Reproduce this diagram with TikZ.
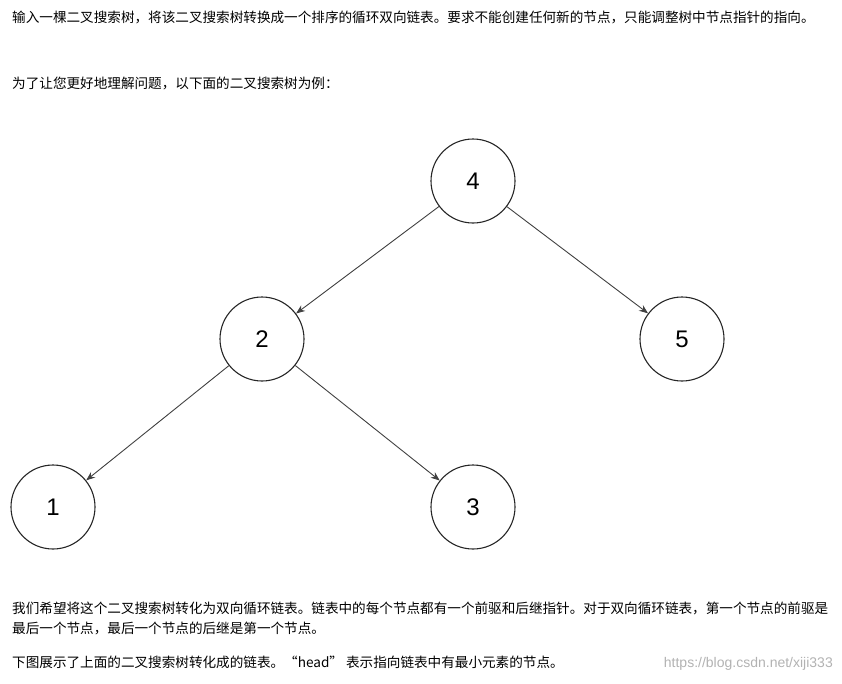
\documentclass[tikz,border=0pt]{standalone}
\usepackage{fontspec}
\usetikzlibrary{arrows.meta}
\newfontfamily\cjk{Noto Sans CJK SC}
\setmainfont{Liberation Sans}
\begin{document}
\begin{tikzpicture}[x=1pt,y=-1pt,
    treenode/.style={circle, draw=black!85, line width=1.1pt, minimum size=84pt, inner sep=0pt, font=\fontsize{24}{28}\selectfont},
    para/.style={anchor=west, inner sep=0pt, font=\cjk\fontsize{13.6}{16}\selectfont},
    edge/.style={-{Stealth[length=9pt,width=7pt]}, draw=black!75, line width=0.9pt}]
\useasboundingbox (0,0) rectangle (842,683);

    \node[treenode] (n4) at (473,181) {4};
    \node[treenode] (n2) at (262,339) {2};
    \node[treenode] (n5) at (682,339) {5};
    \node[treenode] (n1) at (53,507) {1};
    \node[treenode] (n3) at (473,507) {3};

    \node[para] (t1) at (12,17) {输入一棵二叉搜索树，将该二叉搜索树转换成一个排序的循环双向链表。要求不能创建任何新的节点，只能调整树中节点指针的指向。};
    \node[para] (t2) at (12,83) {为了让您更好地理解问题，以下面的二叉搜索树为例：};
    \node[para] (t3) at (12,608) {我们希望将这个二叉搜索树转化为双向循环链表。链表中的每个节点都有一个前驱和后继指针。对于双向循环链表，第一个节点的前驱是};
    \node[para] (t4) at (12,628) {最后一个节点，最后一个节点的后继是第一个节点。};
    \node[para] (t5) at (12,662) {下图展示了上面的二叉搜索树转化成的链表。“head” 表示指向链表中有最小元素的节点。};
    \node[anchor=east, inner sep=0pt, text=black!30, font=\fontsize{14}{16}\selectfont] (wm) at (833,664) {https://blog.csdn.net/xiji333};

      \draw[edge] (n4) to (n2);
      \draw[edge] (n4) to (n5);
      \draw[edge] (n2) to (n1);
      \draw[edge] (n2) to (n3);
\end{tikzpicture}
\end{document}
